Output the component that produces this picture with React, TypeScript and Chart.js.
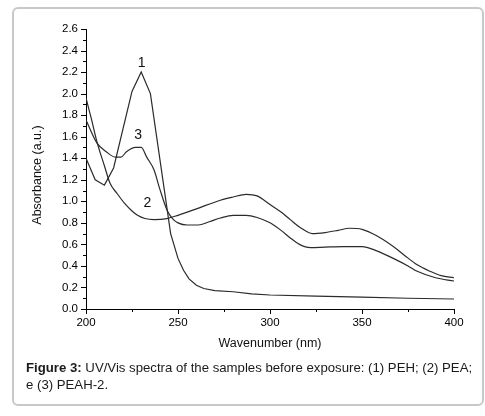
import React, { useEffect, useRef } from "react";
import { Chart, registerables } from "chart.js";

Chart.register(...registerables);

// Curve 1 (PEH)
const pehX = [200, 205, 210, 215, 225, 230, 235, 246, 250, 253, 256, 260, 264, 270, 280, 290, 300, 325, 350, 375, 400];
const pehY = [1.40, 1.20, 1.15, 1.31, 2.02, 2.20, 2.00, 0.70, 0.47, 0.36, 0.28, 0.22, 0.19, 0.17, 0.16, 0.14, 0.13, 0.12, 0.11, 0.10, 0.093];

// Curve 2 (PEA)
const peaX = [200, 203, 206, 210, 213, 217, 221, 225, 228, 232, 237, 244, 250, 260, 273, 280, 287, 293, 300, 306, 311, 317, 323, 330, 337, 343, 350, 358, 367, 373, 380, 387, 393, 400];
const peaY = [1.96, 1.76, 1.55, 1.33, 1.17, 1.07, 0.98, 0.91, 0.87, 0.84, 0.83, 0.84, 0.87, 0.93, 1.01, 1.04, 1.065, 1.05, 0.97, 0.90, 0.83, 0.75, 0.70, 0.71, 0.73, 0.75, 0.74, 0.68, 0.58, 0.50, 0.41, 0.35, 0.31, 0.29];

// Curve 3 (PEAH-2)
const peahX = [200, 206, 211, 216, 219, 222, 227, 230, 233, 237, 240, 244, 247, 250, 255, 261, 267, 273, 280, 287, 293, 300, 306, 311, 316, 322, 330, 340, 350, 358, 367, 375, 380, 390, 400];
const peahY = [1.755, 1.54, 1.46, 1.41, 1.41, 1.46, 1.50, 1.50, 1.41, 1.29, 1.12, 0.92, 0.84, 0.80, 0.78, 0.78, 0.81, 0.845, 0.87, 0.87, 0.85, 0.80, 0.73, 0.66, 0.60, 0.57, 0.575, 0.58, 0.58, 0.54, 0.47, 0.40, 0.35, 0.29, 0.26];

// Curve number labels
const curveLabels = ["1", "2", "3"];
const curveLabelX = [230.3, 233.3, 228.4];
const curveLabelY = [2.28, 0.98, 1.615];

// Axes
const xMin = 200;
const xMax = 400;
const xMajorStep = 50;
const xMinorStep = 25;
const yMin = 0;
const yMax = 2.6;
const yMajorStep = 0.2;
const yMinorStep = 0.1;

const xTitle = "Wavenumber (nm)";
const yTitle = "Absorbance (a.u.)";

const FONT = '"Liberation Sans", Arial, Helvetica, sans-serif';

function pts(xs: number[], ys: number[]) {
  return xs.map((x, i) => ({ x, y: ys[i] }));
}

const decorPlugin = {
  id: "decor",
  afterDraw(chart: any) {
    const { ctx, chartArea, scales } = chart;
    const { left, right, top, bottom } = chartArea;
    const xs = scales.x;
    const ys = scales.y;
    ctx.save();
    ctx.strokeStyle = "#000";
    ctx.lineWidth = 1;
    ctx.beginPath();
    const nY = Math.round((yMax - yMin) / yMinorStep);
    const yRatio = Math.round(yMajorStep / yMinorStep);
    for (let i = 0; i <= nY; i++) {
      const v = yMin + i * yMinorStep;
      const len = i % yRatio === 0 ? 5 : 3;
      const py = Math.round(ys.getPixelForValue(v)) + 0.5;
      ctx.moveTo(left - len, py);
      ctx.lineTo(left, py);
    }
    const nX = Math.round((xMax - xMin) / xMinorStep);
    const xRatio = Math.round(xMajorStep / xMinorStep);
    for (let i = 0; i <= nX; i++) {
      const v = xMin + i * xMinorStep;
      const len = i % xRatio === 0 ? 5 : 3;
      const px = Math.round(xs.getPixelForValue(v)) + 0.5;
      ctx.moveTo(px, bottom);
      ctx.lineTo(px, bottom + len);
    }
    ctx.stroke();

    ctx.fillStyle = "#111";
    ctx.textAlign = "center";
    ctx.textBaseline = "middle";
    ctx.font = `12.5px ${FONT}`;
    ctx.fillText(xTitle, (left + right) / 2, bottom + 35);
    ctx.save();
    ctx.translate(left - 48, (top + bottom) / 2 + 6);
    ctx.rotate(-Math.PI / 2);
    ctx.fillText(yTitle, 0, 0);
    ctx.restore();

    ctx.font = `14px ${FONT}`;
    for (let i = 0; i < curveLabels.length; i++) {
      ctx.fillText(
        curveLabels[i],
        xs.getPixelForValue(curveLabelX[i]),
        ys.getPixelForValue(curveLabelY[i])
      );
    }
    ctx.restore();
  },
};

function SpectraChart() {
  const ref = useRef<HTMLCanvasElement | null>(null);
  useEffect(() => {
    if (!ref.current) return;
    const lineColor = "#2b2b2b";
    const chart = new Chart(ref.current, {
      type: "line",
      data: {
        datasets: [
          {
            label: "PEH",
            data: pts(pehX, pehY),
            borderColor: lineColor,
            borderWidth: 1.2,
            pointRadius: 0,
            tension: 0,
            fill: false,
          },
          {
            label: "PEA",
            data: pts(peaX, peaY),
            borderColor: lineColor,
            borderWidth: 1.2,
            pointRadius: 0,
            cubicInterpolationMode: "monotone",
            fill: false,
          },
          {
            label: "PEAH-2",
            data: pts(peahX, peahY),
            borderColor: lineColor,
            borderWidth: 1.2,
            pointRadius: 0,
            cubicInterpolationMode: "monotone",
            fill: false,
          },
        ],
      },
      options: {
        responsive: false,
        animation: false,
        devicePixelRatio: 1,
        layout: { padding: { top: 29, right: 31, left: 0, bottom: 0 } },
        plugins: {
          legend: { display: false },
          tooltip: { enabled: false },
          title: { display: false },
        },
        scales: {
          x: {
            type: "linear",
            min: xMin,
            max: xMax,
            ticks: {
              stepSize: xMajorStep,
              color: "#000",
              font: { size: 11.5, family: FONT },
              padding: 7,
              maxRotation: 0,
            },
            grid: { display: false, drawTicks: false },
            border: { display: true, color: "#000", width: 1 },
            afterFit: (s: any) => {
              s.height = 51;
            },
          },
          y: {
            type: "linear",
            min: yMin,
            max: yMax,
            ticks: {
              stepSize: yMajorStep,
              color: "#000",
              font: { size: 11.5, family: FONT },
              padding: 8,
              callback: (v: any) => Number(v).toFixed(1),
            },
            grid: { display: false, drawTicks: false },
            border: { display: true, color: "#000", width: 1 },
            afterFit: (s: any) => {
              s.width = 86;
            },
          },
        },
      },
      plugins: [decorPlugin],
    } as any);
    return () => chart.destroy();
  }, []);
  return (
    <canvas
      ref={ref}
      width={485}
      height={360}
      style={{ position: "absolute", left: 0, top: 0, width: 485, height: 360 }}
    />
  );
}

export default function App() {
  return (
    <div
      style={{
        position: "absolute",
        left: 0,
        top: 0,
        width: 485,
        height: 416,
        background: "#fff",
        fontFamily: FONT,
      }}
    >
      <div
        style={{
          position: "absolute",
          left: 12,
          top: 7,
          width: 472,
          height: 399,
          boxSizing: "border-box",
          border: "2px solid #c8c8c8",
          borderRadius: 6,
        }}
      />
      <SpectraChart />
      <div
        style={{
          position: "absolute",
          left: 26,
          top: 359,
          width: 452,
          fontSize: 13.2,
          lineHeight: "17px",
          color: "#1a1a1a",
        }}
      >
        <b>Figure 3:</b> UV/Vis spectra of the samples before exposure: (1) PEH; (2) PEA; e (3) PEAH-2.
      </div>
    </div>
  );
}
